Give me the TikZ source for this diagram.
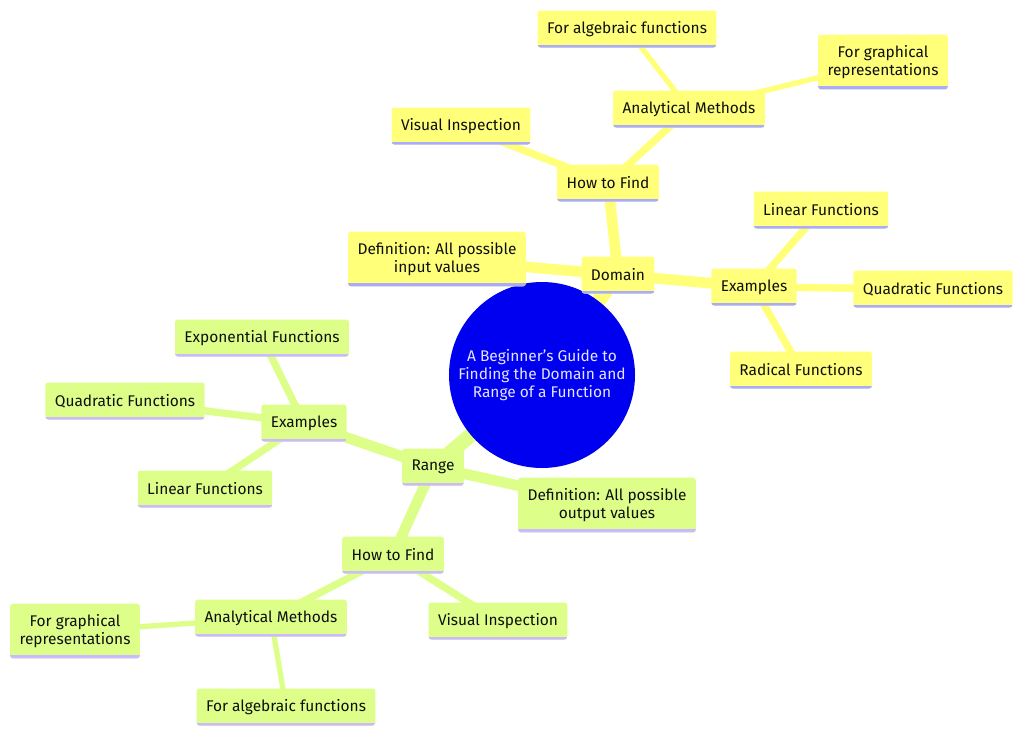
\documentclass[tikz,border=0pt]{standalone}
\usepackage{fontspec}
\setmainfont{Fira Sans}
\usepackage{xcolor}
\usepackage{tikz}
\usetikzlibrary{backgrounds}
\definecolor{myblue}{RGB}{0,0,240}
\definecolor{mylight}{RGB}{228,228,255}
\definecolor{mydark}{RGB}{15,15,15}
\definecolor{myyellow}{RGB}{255,255,122}
\definecolor{mygreen}{RGB}{221,255,138}
\definecolor{ulyellow}{RGB}{170,170,255}
\definecolor{ulgreen}{RGB}{205,185,255}
\tikzset{
  block/.style={rectangle, rounded corners=2pt, align=center, text=mydark, font=\fontsize{11.6}{13.5}\selectfont, minimum height=27.75pt, inner xsep=7pt, inner ysep=8pt},
  dblock/.style={block, fill=myyellow, path picture={\draw[ulyellow, line width=4.5pt] (path picture bounding box.south west) -- (path picture bounding box.south east);}},
  rblock/.style={block, fill=mygreen, path picture={\draw[ulgreen, line width=4.5pt] (path picture bounding box.south west) -- (path picture bounding box.south east);}},
  dline/.style={draw=myyellow},
  rline/.style={draw=mygreen}
}

\begin{document}
\begin{tikzpicture}[x=0.75pt, y=-0.75pt, root/.style={circle, fill=myblue, text=mylight, align=center, font=\fontsize{11.6}{13.5}\selectfont, minimum size=139.5pt}]
  \useasboundingbox (0,0) rectangle (1024,736);
  \node [root] (root) at (542,375) {A Beginner's Guide to\\Finding the Domain and\\Range of a Function};

  % domain branch
  \node [dblock] (dom) at (618,275) {Domain};
  \node [dblock] (ddef) at (437,259) {Definition: All possible\\input values};
  \node [dblock] (dhow) at (608,183) {How to Find};
  \node [dblock] (dvis) at (461,126) {Visual Inspection};
  \node [dblock] (dana) at (689,109) {Analytical Methods};
  \node [dblock] (dalg) at (627,29) {For algebraic functions};
  \node [dblock] (dgra) at (883,62) {For graphical\\representations};
  \node [dblock] (dex) at (754,287) {Examples};
  \node [dblock] (dlin) at (821,210) {Linear Functions};
  \node [dblock] (dquad) at (933,289) {Quadratic Functions};
  \node [dblock] (drad) at (801,370) {Radical Functions};

  % range branch
  \node [rblock] (ran) at (433,467) {Range};
  \node [rblock] (rdef) at (607,505) {Definition: All possible\\output values};
  \node [rblock] (rex) at (304,423) {Examples};
  \node [rblock] (rexp) at (262,338) {Exponential Functions};
  \node [rblock] (rquad) at (125,401) {Quadratic Functions};
  \node [rblock] (rlin) at (205,489) {Linear Functions};
  \node [rblock] (rhow) at (393,555) {How to Find};
  \node [rblock] (rvis) at (498,621) {Visual Inspection};
  \node [rblock] (rana) at (271,618) {Analytical Methods};
  \node [rblock] (rgra) at (75,631) {For graphical\\representations};
  \node [rblock] (ralg) at (286,707) {For algebraic functions};

  \begin{scope}[on background layer]
    \draw [dline, line width=11pt] (root.center) -- (dom.center);
    \draw [rline, line width=11pt] (root.center) -- (ran.center);
    \foreach \a/\b in {dom/ddef, dom/dhow, dom/dex}
      \draw [dline, line width=8pt] (\a.center) -- (\b.center);
    \foreach \a/\b in {dhow/dvis, dhow/dana, dex/dlin, dex/dquad, dex/drad}
      \draw [dline, line width=5.5pt] (\a.center) -- (\b.center);
    \foreach \a/\b in {dana/dalg, dana/dgra}
      \draw [dline, line width=4pt] (\a.center) -- (\b.center);
    \foreach \a/\b in {ran/rdef, ran/rex, ran/rhow}
      \draw [rline, line width=8pt] (\a.center) -- (\b.center);
    \foreach \a/\b in {rex/rexp, rex/rquad, rex/rlin, rhow/rvis, rhow/rana}
      \draw [rline, line width=5.5pt] (\a.center) -- (\b.center);
    \foreach \a/\b in {rana/rgra, rana/ralg}
      \draw [rline, line width=4pt] (\a.center) -- (\b.center);
  \end{scope}
\end{tikzpicture}
\end{document}
